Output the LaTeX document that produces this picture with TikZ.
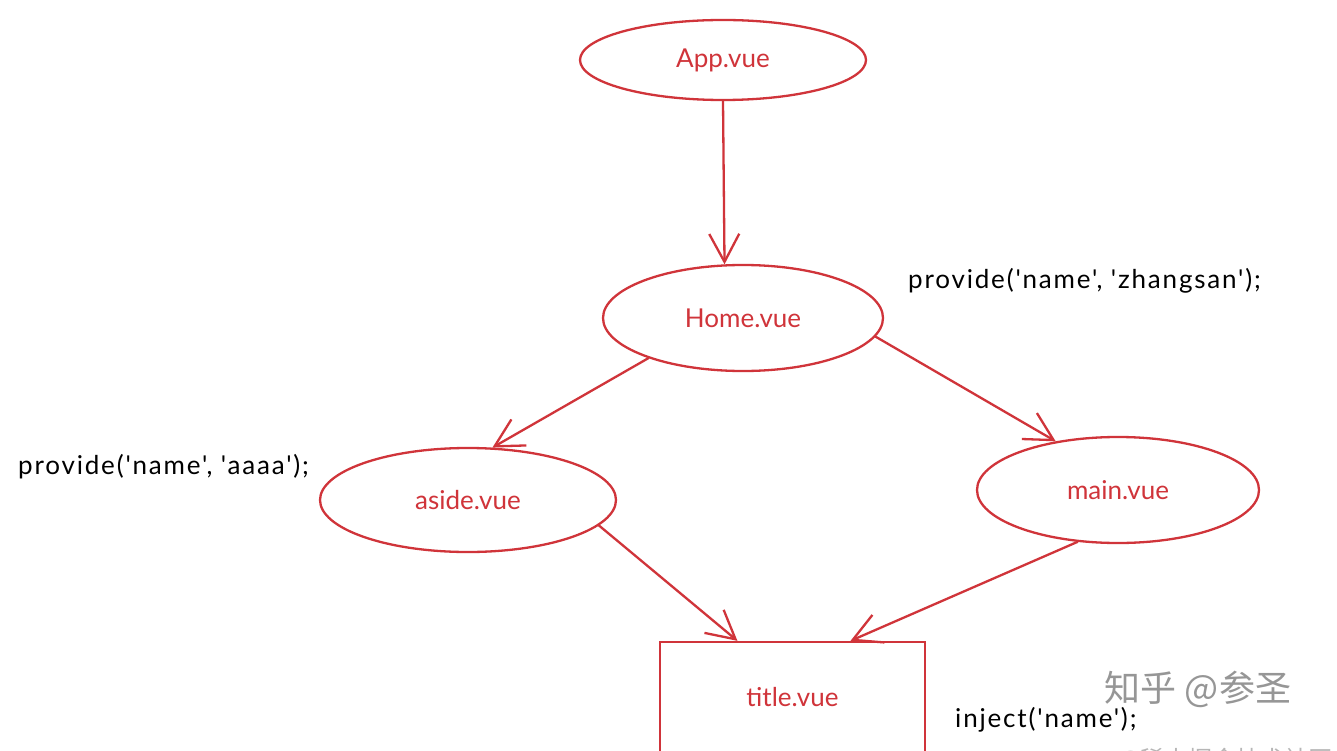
\documentclass[tikz,border=0pt]{standalone}
\usepackage{fontspec}
\setmainfont{Lato}
\newfontfamily\codefont{Lato}[Ligatures=TeXOff,LetterSpace=7]
\newfontfamily\cjk{Noto Sans CJK SC}
\usetikzlibrary{shapes.geometric,arrows.meta,calc}
\definecolor{sketchred}{RGB}{208,52,58}
\definecolor{wmgray}{RGB}{150,150,150}
\begin{document}
\begin{tikzpicture}[x=1pt,y=-1pt,
  comp/.style={draw=sketchred,line width=2.3pt,ellipse,inner sep=0pt,text=sketchred,
    font=\fontsize{26}{30}\selectfont},
  box/.style={draw=sketchred,line width=2.3pt,rectangle,inner sep=0pt,text=sketchred,
    font=\fontsize{26}{30}\selectfont},
  link/.style={draw=sketchred,line width=2.3pt,line cap=round,
    -{Straight Barb[length=28pt,width=30pt,line width=2.3pt]}},
  code/.style={text=black,font=\codefont\fontsize{26}{30}\selectfont,inner sep=0pt,anchor=west},
]
\useasboundingbox (0,0) rectangle (1337,751);
\fill[white] (0,0) rectangle (1337,751);

\node[comp,minimum width=286pt,minimum height=80pt] (app) at (723,60) {App.vue};
\node[comp,minimum width=280pt,minimum height=106pt] (home) at (743,318) {Home.vue};
\node[comp,minimum width=296pt,minimum height=104pt] (aside) at (468,500) {aside.vue};
\node[comp,minimum width=282pt,minimum height=106pt] (main) at (1118,490) {main.vue};
\node[box,minimum width=265pt,minimum height=110pt] (title) at (792.5,697) {title.vue};

\draw[link] (app.-90) -- (home.109);
\draw[link] (home.203) -- (aside.65);
\draw[link] (home.-8) -- (main.142);
\draw[link] (aside.-11) -- ($(title.north west)!0.294!(title.north east)$);
\draw[link] (main.-128) -- ($(title.north west)!0.717!(title.north east)$);

\node[code] (provz) at (908,281) {provide('name', 'zhangsan');};
\node[code] (prova) at (18,467) {provide('name', 'aaaa');};
\node[code] (inj) at (955,720) {inject('name');};

\node[text=wmgray,font=\cjk\fontsize{36}{40}\selectfont,inner sep=0pt] (wm) at (1198,689) {知乎 @参圣};
\node[text=wmgray!70,font=\cjk\fontsize{24}{28}\selectfont,inner sep=0pt,anchor=west] (wm2) at (1118,760) {@稀土掘金技术社区};
\end{tikzpicture}
\end{document}
